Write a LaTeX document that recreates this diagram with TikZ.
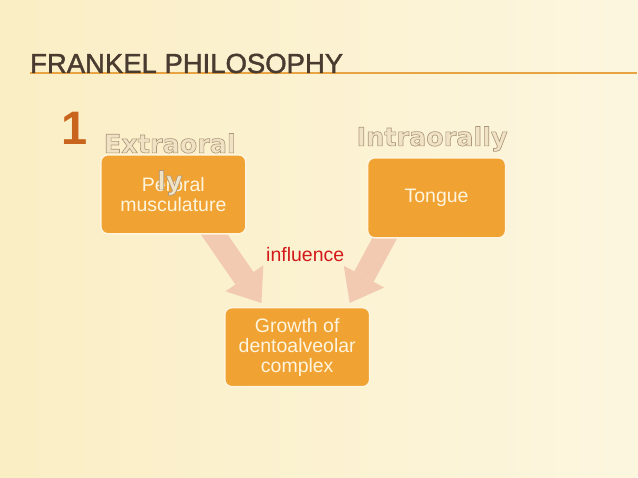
\documentclass[tikz,border=0pt]{standalone}
\usepackage{fontspec}
\setmainfont{Liberation Sans}
\newfontfamily\heavyfont{DejaVu Sans Bold}[FakeBold=2.5]
\newfontfamily\titlefont{Liberation Sans}[FakeBold=1.5]
\usetikzlibrary{arrows.meta}
\pgfdeclarelayer{paperlayer}
\pgfdeclarelayer{back}
\pgfsetlayers{paperlayer,back,main}

\definecolor{paper}{HTML}{FAEEC4}
\definecolor{paperlight}{HTML}{FDF6DF}
\definecolor{boxorange}{HTML}{F0A232}
\definecolor{boxtext}{HTML}{FFF5DE}
\definecolor{titlebrown}{HTML}{4A3B30}
\definecolor{ruleorange}{HTML}{E8A442}
\definecolor{arrowpink}{HTML}{F2CAB2}
\definecolor{influencered}{HTML}{D21A1A}
\definecolor{numberorange}{HTML}{C8641C}
\definecolor{outlinefill}{HTML}{F0E2C4}

\newcommand{\outlined}[1]{\special{pdf:literal direct 0.68 0.59 0.48 RG}#1}

\tikzset{
  stage/.style={rectangle, rounded corners=7pt, fill=boxorange, draw=boxtext, line width=1.5pt,
    text=boxtext, font=\fontsize{19.5}{20}\selectfont, align=center,
    minimum width=145pt, minimum height=79pt, inner sep=2pt},
  place/.style={text=outlinefill, font=\heavyfont\fontsize{25.5}{30}\selectfont,
    inner sep=0pt, anchor=base},
  push/.style={arrowpink, line width=22pt, -{Triangle[length=30pt, width=46pt, line width=0pt]}}
}

\begin{document}
\begin{tikzpicture}[x=1pt, y=-1pt]
  \begin{pgfonlayer}{paperlayer}
    \shade [left color=paper, right color=paperlight] (0,0) rectangle (638,478);
    \draw [draw=ruleorange, line width=1.2pt] (30,73) -- (638,73);
  \end{pgfonlayer}
  \useasboundingbox (0,0) rectangle (638,478);

  \node [titlebrown, font=\titlefont\fontsize{27.5}{30}\selectfont, anchor=base west, inner sep=0pt] (title) at (30,73) {FRANKEL PHILOSOPHY};
  \node [numberorange, font=\bfseries\fontsize{47}{50}\selectfont, anchor=base, inner sep=0pt] (one) at (75,145) {1};

  \node [stage] (peroral) at (173.5,194.5) {Peroral\\musculature};
  \node [stage, minimum width=138pt, minimum height=80pt] (tongue) at (437,198) {Tongue};
  \node [stage] (growth) at (297.5,347.5) {Growth of\\dentoalveolar\\complex};

  \node [place] (extra) at (170,153) {\outlined{\begin{tabular}[t]{@{}c@{}}Extraoral\\[7pt]ly\end{tabular}}};
  \node [place] (intra) at (432.5,146) {\outlined{Intraorally}};
  \node [influencered, font=\fontsize{19.5}{22}\selectfont, anchor=base, inner sep=0pt] (influence) at (305.5,262) {influence};

  \begin{pgfonlayer}{back}
    \foreach \from/\dx/\dy/\tx in {peroral/34.8/9/-35.8, tongue/-46.4/10.6/52.5}
      \draw [push] ([xshift=\dx pt, yshift=\dy pt]\from.south) -- ([xshift=\tx pt, yshift=4pt]growth.north);
  \end{pgfonlayer}
\end{tikzpicture}
\end{document}
